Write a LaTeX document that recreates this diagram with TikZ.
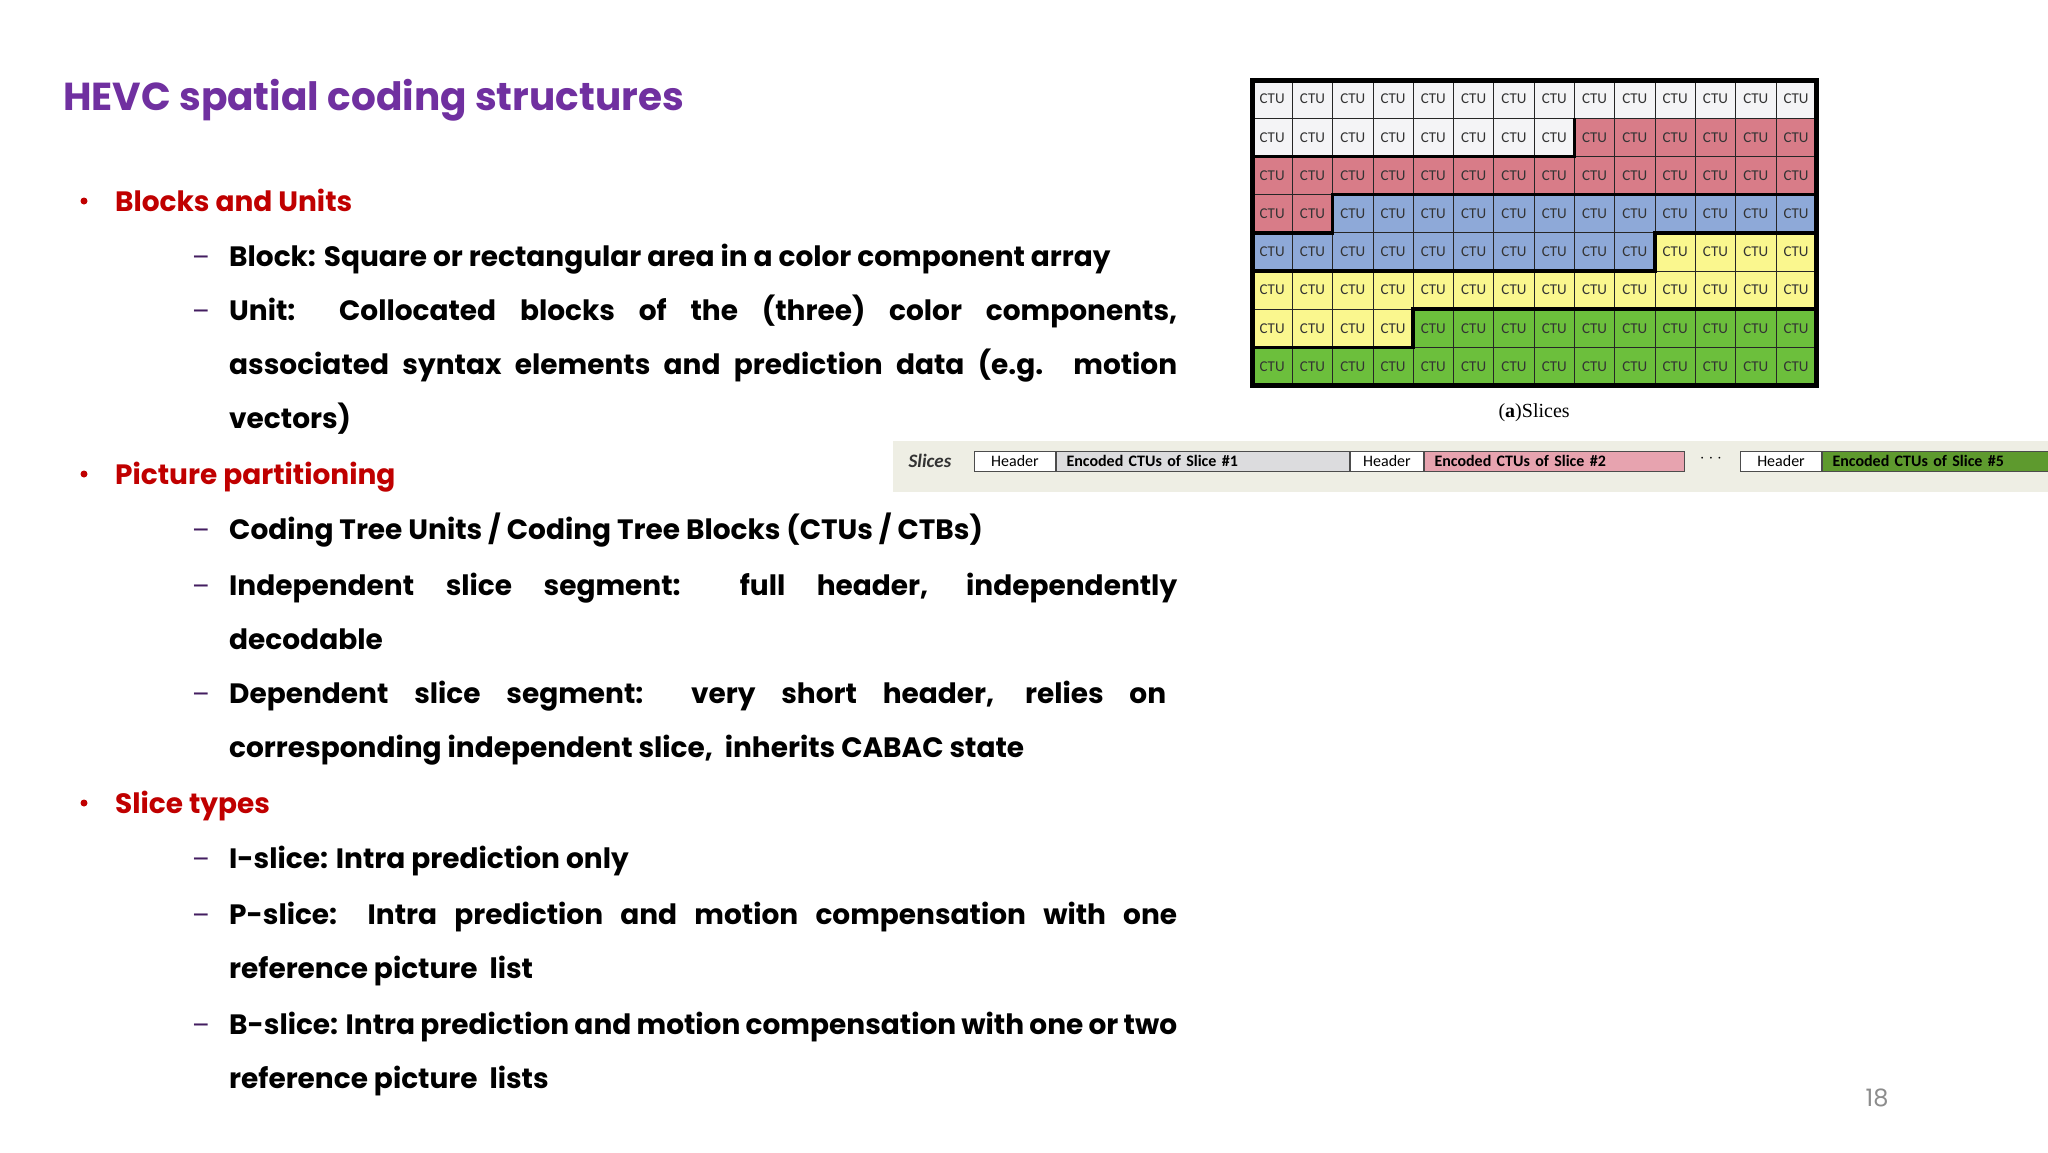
\documentclass[tikz,border=0pt]{standalone}
\usepackage{fontspec}
\setmainfont{Poppins}
\newfontfamily\carl{Carlito}
\newfontfamily\serifx{Liberation Serif}
\definecolor{ttl}{HTML}{7030A0}
\definecolor{redt}{HTML}{C00000}
\definecolor{cw}{HTML}{F4F4F6}
\definecolor{cr}{HTML}{D87C88}
\definecolor{cb}{HTML}{8EA9D8}
\definecolor{cy}{HTML}{FAF78E}
\definecolor{cg}{HTML}{6CBF3C}
\definecolor{barbg}{HTML}{EEEEE4}
\definecolor{s1}{HTML}{DCDCDE}
\definecolor{s2}{HTML}{E7A3AF}
\definecolor{s5}{HTML}{5E9A2E}
\tikzset{
 body/.style={anchor=base west,font=\fontsize{28}{30}\selectfont\bfseries,inner sep=0},
 sec/.style={body,text=redt},
 ctu/.style={font=\carl\fontsize{15}{16}\selectfont,text=black!80},
 bx/.style={draw=black!70,line width=1pt,minimum height=20pt,inner sep=0,anchor=west,font=\carl\fontsize{16}{18}\selectfont},
 enc/.style={bx,align=left,inner xsep=10pt,font=\carl\fontsize{16}{18}\selectfont\bfseries},
 bnd/.style={line width=3.5pt,line join=miter},
 dot/.style={circle,fill=redt,inner sep=0,minimum size=7pt},
}
\begin{document}
\begin{tikzpicture}[x=1pt,y=-1pt]
\useasboundingbox (0,0) rectangle (2048,1152);
\fill[white] (0,0) rectangle (2048,1152);
\node[anchor=base west,inner sep=0,text=ttl,font=\fontsize{39}{42}\selectfont\bfseries] (title) at (63,110) {HEVC spatial coding structures};
% bullets
\node[dot] (b1) at (84,201) {};
\node[dot] (b2) at (84,474) {};
\node[dot] (b3) at (84,803) {};
\node[sec] (s1) at (115,211) {Blocks and Units};
\node[sec] (s2) at (115,484) {Picture partitioning};
\node[sec] (s3) at (115,813) {Slice types};
\foreach \y/\n in {266/d1,320/d2,539/d3,595/d4,703/d5,868/d6,924/d7,1034/d8}{\node[anchor=base west,inner sep=0,text=ttl!60!black,font=\fontsize{26}{30}\selectfont] (\n) at (192,\y) {–};}
\node[body] (l1) at (229,266) {Block: Square or rectangular area in a color component array};
\node[body] (l2) at (229,320) {\makebox[948pt][s]{Unit: Collocated blocks of the (three) color components,}};
\node[body] (l3) at (229,374) {\makebox[948pt][s]{associated syntax elements and prediction data (e.g. motion}};
\node[body] (l4) at (229,428) {vectors)};
\node[body] (l5) at (229,539) {Coding Tree Units / Coding Tree Blocks (CTUs / CTBs)};
\node[body] (l6) at (229,595) {\makebox[948pt][s]{Independent slice segment: full header, independently}};
\node[body] (l7) at (229,649) {decodable};
\node[body] (l8) at (229,703) {\makebox[937pt][s]{Dependent slice segment: very short header, relies on}};
\node[body] (l9) at (229,757) {corresponding independent slice, \ inherits CABAC state};
\node[body] (l10) at (229,868) {I-slice: Intra prediction only};
\node[body] (l11) at (229,924) {\makebox[948pt][s]{P-slice: Intra prediction and motion compensation with one}};
\node[body] (l12) at (229,978) {reference picture \ list};
\node[body] (l13) at (229,1034) {\makebox[948pt][s]{B-slice: Intra prediction and motion compensation with one or two}};
\node[body] (l14) at (229,1088) {reference picture \ lists};
\node[text=black!45,font=\fontsize{24}{26}\selectfont] (pg) at (1877,1098) {18};
% grid
\begin{scope}[shift={(1252,80)},x=40.3pt,y=-38.2pt]
\foreach \r in {0,...,7}{\foreach \c in {0,...,13}{
  \pgfmathtruncatemacro{\k}{\r*14+\c}
  \ifnum\k<22 \def\cc{cw}\else\ifnum\k<44 \def\cc{cr}\else\ifnum\k<66 \def\cc{cb}\else\ifnum\k<88 \def\cc{cy}\else\def\cc{cg}\fi\fi\fi\fi
  \filldraw[fill=\cc,draw=black!85,line width=0.8pt] (\c,\r) rectangle ++(1,1);
  \node[ctu] (c\r-\c) at (\c+0.5,\r+0.5) {CTU};
}}
\draw[bnd] (8,1)--(8,2)--(0,2);
\draw[bnd] (14,3)--(2,3)--(2,4)--(0,4);
\draw[bnd] (14,4)--(10,4)--(10,5)--(0,5);
\draw[bnd] (14,6)--(4,6)--(4,7)--(0,7);
\draw[line width=5pt,line join=miter] (0,0) rectangle (14,8);
\node[font=\serifx\fontsize{20}{22}\selectfont] (cap) at (7,8.72) {(\textbf{a})Slices};
\end{scope}
% slice bar
\fill[barbg] (893,441) rectangle (2048,492);
\node[anchor=west,font=\carl\fontsize{19}{20}\selectfont\bfseries\itshape,text=black!80] (sl) at (905,461) {Slices};
\node[bx,fill=white,minimum width=81pt] (h1) at (974,461) {Header};
\node[enc,fill=s1,text width=273pt] (e1) at (h1.east) {Encoded CTUs of Slice \#1};
\node[bx,fill=white,minimum width=73pt] (h2) at (e1.east) {Header};
\node[enc,fill=s2,text width=240pt] (e2) at (h2.east) {Encoded CTUs of Slice \#2};
\node[font=\carl\fontsize{16}{18}\selectfont] (dots) at (1711,459) {$\cdot\cdot\cdot$};
\node[bx,fill=white,minimum width=81pt] (h5) at (1740,461) {Header};
\node[enc,fill=s5,text width=220pt] (e5) at (h5.east) {Encoded CTUs of Slice \#5};
\end{tikzpicture}
\end{document}
